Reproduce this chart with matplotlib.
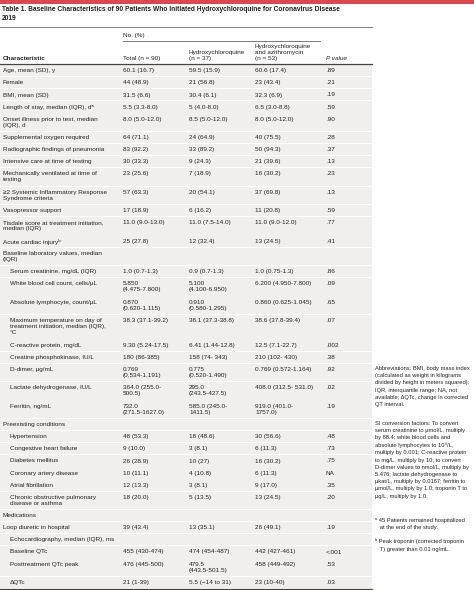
import matplotlib.pyplot as plt
from matplotlib.patches import Rectangle

plt.rcParams['font.family'] = ['Liberation Sans Narrow', 'Liberation Sans', 'DejaVu Sans']

title = ("Table 1. Baseline Characteristics of 90 Patients Who Initiated Hydroxychloroquine for Coronavirus Disease\n"
         "2019")
col_headers = ["Characteristic", "Total (n = 90)", "Hydroxychloroquine\n(n = 37)",
               "Hydroxychloroquine\nand azithromycin\n(n = 53)", "P value"]

# (label, indent, total, hcq, hcq+azithro, p)
rows = [
    ("Age, mean (SD), y", 0, "60.1 (16.7)", "59.5 (15.9)", "60.6 (17.4)", ".89"),
    ("Female", 0, "44 (48.9)", "21 (56.8)", "23 (43.4)", ".21"),
    ("BMI, mean (SD)", 0, "31.5 (6.6)", "30.4 (6.1)", "32.3 (6.9)", ".19"),
    ("Length of stay, median (IQR), dᵃ", 0, "5.5 (3.3-8.0)", "5 (4.0-8.0)", "6.5 (3.0-8.8)", ".59"),
    ("Onset illness prior to test, median\n(IQR), d", 0, "8.0 (5.0-12.0)", "8.5 (5.0-12.0)", "8.0 (5.0-12.0)", ".90"),
    ("Supplemental oxygen required", 0, "64 (71.1)", "24 (64.9)", "40 (75.5)", ".28"),
    ("Radiographic findings of pneumonia", 0, "83 (92.2)", "33 (89.2)", "50 (94.3)", ".37"),
    ("Intensive care at time of testing", 0, "30 (33.3)", "9 (24.3)", "21 (39.6)", ".13"),
    ("Mechanically ventilated at time of\ntesting", 0, "23 (25.6)", "7 (18.9)", "16 (30.2)", ".23"),
    ("≥2 Systemic Inflammatory Response\nSyndrome criteria", 0, "57 (63.3)", "20 (54.1)", "37 (69.8)", ".13"),
    ("Vasopressor support", 0, "17 (18.9)", "6 (16.2)", "11 (20.8)", ".59"),
    ("Tisdale score at treatment initiation,\nmedian (IQR)", 0, "11.0 (9.0-13.0)", "11.0 (7.5-14.0)", "11.0 (9.0-12.0)", ".77"),
    ("Acute cardiac injuryᵇ", 0, "25 (27.8)", "12 (32.4)", "13 (24.5)", ".41"),
    ("Baseline laboratory values, median\n(IQR)", 0, "", "", "", ""),
    ("Serum creatinine, mg/dL (IQR)", 1, "1.0 (0.7-1.3)", "0.9 (0.7-1.3)", "1.0 (0.75-1.3)", ".86"),
    ("White blood cell count, cells/µL", 1, "5.850\n(4.475-7.800)", "5.100\n(4.100-6.950)", "6.200 (4.950-7.800)", ".09"),
    ("Absolute lymphocyte, count/µL", 1, "0.870\n(0.620-1.115)", "0.910\n(0.580-1.295)", "0.860 (0.625-1.045)", ".65"),
    ("Maximum temperature on day of\ntreatment initiation, median (IQR),\n°C", 1,
     "38.3 (37.1-39.2)", "38.1 (37.3-38.8)", "38.6 (37.8-39.4)", ".07"),
    ("C-reactive protein, mg/dL", 1, "9.30 (5.24-17.5)", "6.41 (1.44-12.8)", "12.5 (7.1-22.7)", ".002"),
    ("Creatine phosphokinase, IU/L", 1, "180 (86-385)", "158 (74- 343)", "210 (102- 430)", ".38"),
    ("D-dimer, µg/mL", 1, "0.769\n(0.534-1.191)", "0.775\n(0.520-1.490)", "0.769 (0.572-1.164)", ".92"),
    ("Lactate dehydrogenase, IU/L", 1, "364.0 (255.0-\n500.5)", "295.0\n(243.5-427.5)", "408.0 (312.5- 531.0)", ".02"),
    ("Ferritin, ng/mL", 1, "732.0\n(271.5-1627.0)", "585.0 (245.0-\n1411.5)", "919.0 (401.0-\n1757.0)", ".19"),
    ("Preexisting conditions", 0, "", "", "", ""),
    ("Hypertension", 1, "48 (53.3)", "18 (48.6)", "30 (56.6)", ".48"),
    ("Congestive heart failure", 1, "9 (10.0)", "3 (8.1)", "6 (11.3)", ".73"),
    ("Diabetes mellitus", 1, "26 (28.9)", "10 (27)", "16 (30.2)", ".75"),
    ("Coronary artery disease", 1, "10 (11.1)", "4 (10.8)", "6 (11.3)", "NA"),
    ("Atrial fibrillation", 1, "12 (13.3)", "3 (8.1)", "9 (17.0)", ".35"),
    ("Chronic obstructive pulmonary\ndisease or asthma", 1, "18 (20.0)", "5 (13.5)", "13 (24.5)", ".20"),
    ("Medications", 0, "", "", "", ""),
    ("Loop diuretic in hospital", 0, "39 (43.4)", "13 (35.1)", "26 (49.1)", ".19"),
    ("Echocardiography, median (IQR), ms", 1, "", "", "", ""),
    ("Baseline QTc", 1, "455 (430-474)", "474 (454-487)", "442 (427-461)", "<.001"),
    ("Posttreatment QTc peak", 1, "476 (445-500)", "479.5\n(443.5-501.5)", "458 (449-492)", ".53"),
    ("ΔQTc", 1, "21 (1-39)", "5.5 (−14 to 31)", "23 (10-40)", ".03"),
]

notes = [
    "Abbreviations: BMI, body mass index\n(calculated as weight in kilograms\ndivided by height in meters squared);\n"
    "IQR, interquartile range; NA, not\navailable; ΔQTc, change in corrected\nQT interval.",
    "SI conversion factors: To convert\nserum creatinine to µmol/L, multiply\nby 88.4; white blood cells and\n"
    "absolute lymphocytes to 10⁹/L,\nmultiply by 0.001; C-reactive protein\nto mg/L, multiply by 10; to convert\n"
    "D-dimer values to nmol/L, multiply by\n5.476; lactate dehydrogenase to\nµkat/L, multiply by 0.0167; ferritin to\n"
    "µmol/L, multiply by 1.0; troponin T to\nµg/L, multiply by 1.0.",
    "ᵃ 45 Patients remained hospitalized\n   at the end of the study.",
    "ᵇ Peak troponin (corrected troponin\n   T) greater than 0.01 ng/mL.",
]

W, H = 474, 590
fig = plt.figure(figsize=(4.74, 5.9), dpi=100)
ax = fig.add_axes([0, 0, 1, 1])
ax.set_xlim(0, W)
ax.set_ylim(H, 0)
ax.axis('off')

fs = 4.6
col_x = [3, 123, 189, 255, 326]
table_right = 372
txt = '#222222'

ax.add_patch(Rectangle((0, 0), W, 4, color='#e0474c', lw=0))
ax.text(2, 6, title, fontsize=4.75, fontweight='bold', va='top', ha='left', color=txt, linespacing=1.3)
ax.plot([0, table_right], [27, 27], color='#888888', lw=0.8)

ax.text(col_x[1], 35, "No. (%)", fontsize=fs, va='center', color=txt)
ax.plot([col_x[1], 320], [40.5, 40.5], color='#666666', lw=0.6)
for i, h in enumerate(col_headers):
    ax.text(col_x[i], 61, h, fontsize=fs, va='bottom', ha='left', color=txt,
            fontweight='bold' if i == 0 else 'normal', linespacing=1.2,
            style='italic' if i == 4 else 'normal')
ax.plot([0, table_right], [64, 64], color='#444444', lw=0.9)

line_h = 6.3
y = 65
for label, indent, tot, hcq, az, p in rows:
    n = max(s.count('\n') + 1 for s in (label, tot, hcq, az))
    h = 5.8 + line_h * n
    ax.add_patch(Rectangle((0, y), table_right, h - 0.8, color='#f1efec', lw=0))
    for xi, s in zip(col_x, (label, tot, hcq, az, p)):
        dx = 7 if (xi == col_x[0] and indent) else 0
        ax.text(xi + dx, y + 3.3, s, fontsize=fs, va='top', ha='left', color=txt, linespacing=1.25)
    y += h
ax.plot([0, table_right], [y, y], color='#444444', lw=0.9)

ny = 366
for s in notes:
    ax.text(375, ny, s, fontsize=4.15, va='top', ha='left', color=txt, linespacing=1.55)
    ny += (s.count('\n') + 1) * 8.6 + 3

fig.savefig('out.png', dpi=100)
